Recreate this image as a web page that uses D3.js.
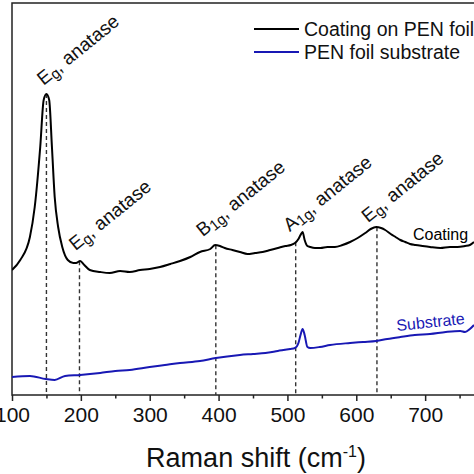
<!DOCTYPE html>
<html>
<head>
<meta charset="utf-8">
<script src="https://cdn.jsdelivr.net/npm/d3@7"></script>
<style>
  body { margin: 0; background: #fff; }
  svg { display: block; font-family: "Liberation Sans", Arial, sans-serif; }
</style>
</head>
<body>
<script>
// Raman spectra (intensity in arbitrary units)
const coatingShift = [100, 112, 126, 133, 141, 146, 150, 154, 158, 162, 167, 173, 181, 189, 193, 199, 205, 213,
  228, 242, 257, 271, 286, 300, 315, 330, 344, 359, 373, 388, 395, 402, 409, 420, 431, 442, 453, 464, 475, 486,
  497, 505, 511, 516, 519, 522, 525, 529, 533, 540, 548, 558, 569, 580, 591, 602, 613, 621, 629, 636, 642, 650,
  657, 664, 671, 678, 686, 696, 707, 722, 736, 747, 758, 765, 771];
const coatingCounts = [125, 135, 158, 188, 248, 295, 301, 295, 248, 198, 168, 148, 135, 132, 132, 134, 130, 125,
  123, 122, 124, 123, 125, 126, 128, 131, 134, 138, 143, 146, 150, 149, 147, 145, 143, 141, 142, 143, 145, 147,
  149, 150, 152, 156, 160, 163, 155, 149, 148, 147, 147, 148, 148, 150, 153, 157, 162, 166, 168, 167, 165, 161,
  158, 155, 153, 151, 150, 149, 148, 147, 148, 148, 149, 150, 153];

const substrateShift = [100, 126, 149, 162, 177, 199, 228, 250, 271, 300, 322, 344, 373, 396, 431, 450, 468, 486,
  504, 511, 516, 519, 522, 525, 529, 533, 547, 562, 591, 610, 629, 645, 664, 685, 707, 730, 751, 758, 765, 771];
const substrateCounts = [18, 19, 16, 15, 19, 20, 22, 24, 25, 28, 30, 32, 34, 37, 40, 41, 42, 44,
  46, 47, 52, 60, 66, 60, 48, 47, 48, 50, 52, 53, 54, 56, 58, 60, 61, 63, 64, 63, 66, 70];

// assigned anatase modes
const peakShift = [150, 198, 396, 512, 630];
const peakMode = [["E", "g"], ["E", "g"], ["B", "1g"], ["A", "1g"], ["E", "g"]];
const peakPhase = ", anatase";

const xTicks = [100, 200, 300, 400, 500, 600, 700];
const xMinorTicks = [150, 250, 350, 450, 550, 650, 750];
const seriesNames = ["Coating on PEN foil", "PEN foil substrate"];
const curveNames = ["Coating", "Substrate"];
const seriesColors = ["#000000", "#1818b4"];

const width = 474, height = 474;
const plot = {left: 12, top: 3, right: 494, bottom: 395};

const svg = d3.select('body')
    .append('svg')
    .attr('width', width)
    .attr('height', height);

const x = d3.scaleLinear().domain([100, 800]).range([plot.left, plot.right]);
const y = d3.scaleLinear().domain([0, 392]).range([plot.bottom, plot.top]);

svg.append('clipPath').attr('id', 'clip')
    .append('rect')
    .attr('x', plot.left).attr('y', plot.top)
    .attr('width', plot.right - plot.left).attr('height', plot.bottom - plot.top);

// frame
svg.append('rect')
    .attr('x', plot.left).attr('y', plot.top)
    .attr('width', plot.right - plot.left).attr('height', plot.bottom - plot.top)
    .style('fill', 'none').style('stroke', '#222').style('stroke-width', 1.5);

// dashed mode markers from the coating curve down to the axis
const coatingAt = v => {
    const i = d3.bisectLeft(coatingShift, v);
    const x0 = coatingShift[i - 1], x1 = coatingShift[i];
    const t = (v - x0) / (x1 - x0);
    return coatingCounts[i - 1] + t * (coatingCounts[i] - coatingCounts[i - 1]);
};

svg.append('g')
    .selectAll('line')
    .data(peakShift)
    .enter()
    .append('line')
        .attr('x1', d => x(d)).attr('x2', d => x(d))
        .attr('y1', d => y(coatingAt(d)))
        .attr('y2', plot.bottom)
        .style('stroke', '#333')
        .style('stroke-width', 1.4)
        .style('stroke-dasharray', '4,3');

// spectra
const line = d3.line()
    .x(d => x(d[0]))
    .y(d => y(d[1]))
    .curve(d3.curveMonotoneX);

const series = [
    d3.zip(coatingShift, coatingCounts),
    d3.zip(substrateShift, substrateCounts)
];

svg.append('g')
    .attr('clip-path', 'url(#clip)')
    .selectAll('path')
    .data(series)
    .enter()
    .append('path')
        .attr('d', line)
        .style('fill', 'none')
        .style('stroke', (d, i) => seriesColors[i])
        .style('stroke-width', 2)
        .style('stroke-linejoin', 'round');

// x axis
const axis = svg.append('g')
    .attr('transform', `translate(0,${plot.bottom})`)
    .call(d3.axisBottom(x).tickValues(xTicks).tickSize(6).tickPadding(6).tickFormat(d3.format('d')));
axis.select('.domain').remove();
axis.selectAll('line').style('stroke', '#222').style('stroke-width', 1.5);
axis.selectAll('text')
    .style('font-size', '21px')
    .style('font-family', '"Liberation Sans", Arial, sans-serif')
    .style('fill', '#111');

const minor = svg.append('g')
    .attr('transform', `translate(0,${plot.bottom})`)
    .call(d3.axisBottom(x).tickValues(xMinorTicks).tickSize(3.5).tickFormat(''));
minor.select('.domain').remove();
minor.selectAll('line').style('stroke', '#222').style('stroke-width', 1.5);

const title = svg.append('text')
    .attr('x', (plot.left + plot.right) / 2 + 3)
    .attr('y', 467)
    .attr('text-anchor', 'middle')
    .style('font-size', '27px')
    .style('fill', '#111');
title.append('tspan').text('Raman shift (cm');
title.append('tspan').attr('dy', -10).style('font-size', '16px').text('-1');
title.append('tspan').attr('dy', 10).text(')');

// mode labels, rotated
const labelOffset = [[-3, -8], [-4, -10], [-13, -8], [-6, -10], [-9, -4]];

const labels = svg.append('g')
    .selectAll('text')
    .data(peakShift)
    .enter()
    .append('text')
        .attr('transform', (d, i) =>
            `translate(${x(d) + labelOffset[i][0]},${y(coatingAt(d)) + labelOffset[i][1]}) rotate(-39)`)
        .style('font-size', '19px')
        .style('fill', '#111');

labels.append('tspan').text((d, i) => peakMode[i][0]);
labels.append('tspan')
    .attr('dy', 3)
    .style('font-size', '15px')
    .text((d, i) => peakMode[i][1]);
labels.append('tspan')
    .attr('dy', -3)
    .text(peakPhase);

// curve labels
svg.append('text')
    .attr('x', 413).attr('y', 240)
    .style('font-size', '16px')
    .style('fill', seriesColors[0])
    .text(curveNames[0]);

svg.append('text')
    .attr('transform', 'translate(397,331) rotate(-6)')
    .style('font-size', '16px')
    .style('fill', seriesColors[1])
    .text(curveNames[1]);

// legend
const legend = svg.append('g')
    .selectAll('g')
    .data(seriesNames)
    .enter()
    .append('g')
        .attr('transform', (d, i) => `translate(254,${29 + i * 23})`);

legend.append('line')
    .attr('x1', 0).attr('x2', 45)
    .style('stroke', (d, i) => seriesColors[i])
    .style('stroke-width', 2);

legend.append('text')
    .attr('x', 50).attr('y', 7)
    .style('font-size', '19.5px')
    .style('fill', '#111')
    .text(d => d);
</script>
</body>
</html>
